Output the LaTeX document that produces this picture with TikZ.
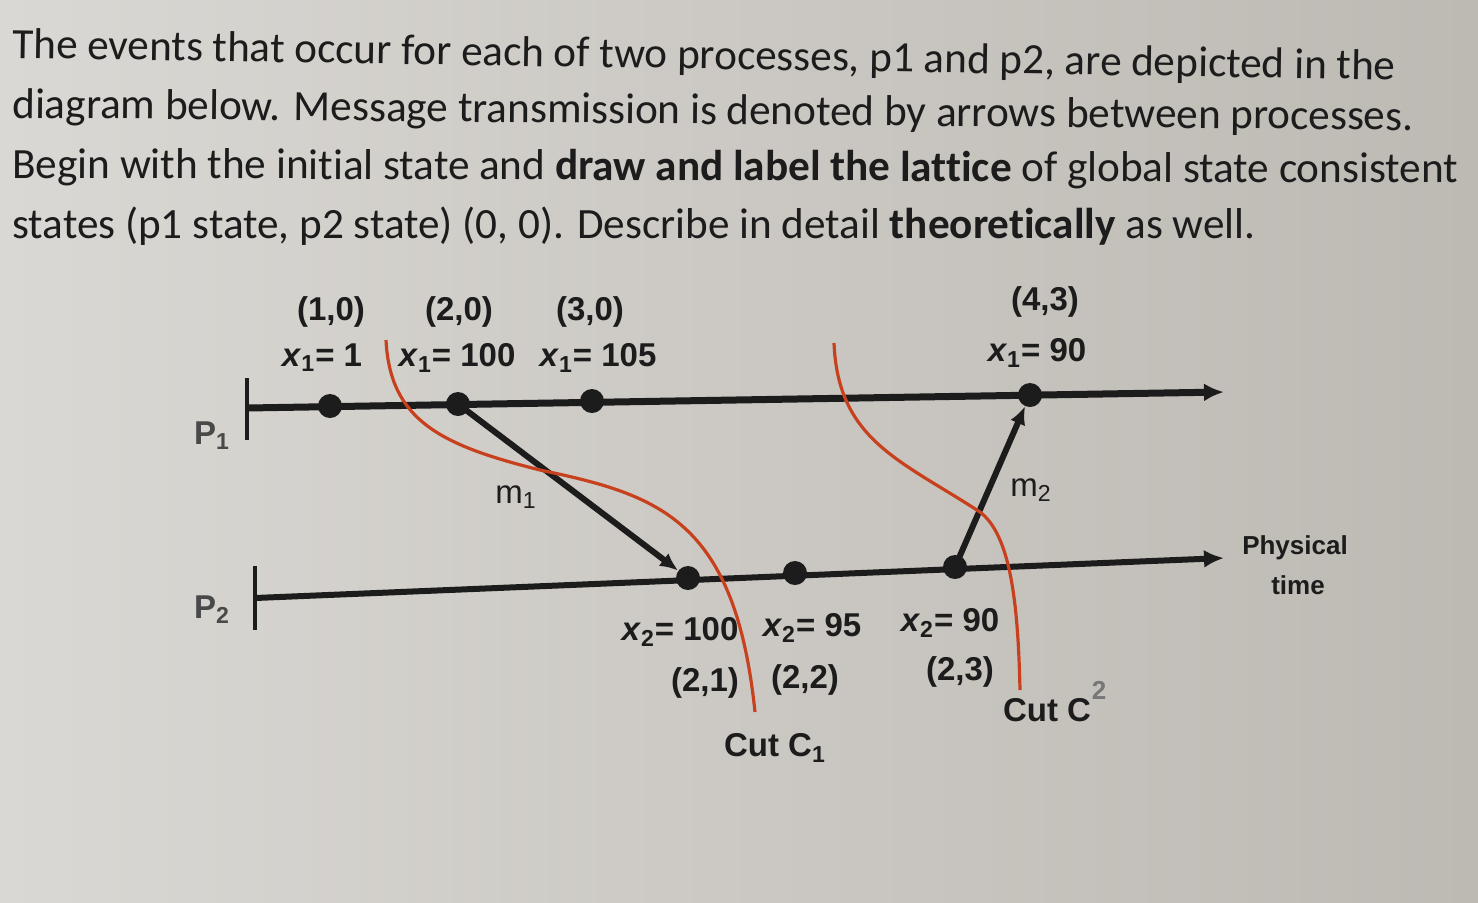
\documentclass[tikz,border=0pt]{standalone}
\usepackage{fontspec}
\setmainfont[Ligatures={NoCommon}]{Carlito}
\newfontfamily\labfont{Liberation Sans}
\usetikzlibrary{arrows.meta}
\definecolor{ink}{HTML}{1C1C1C}
\definecolor{cutred}{HTML}{C8411F}
\definecolor{bgL}{HTML}{DAD8D4}
\definecolor{bgR}{HTML}{BDB9B3}
\tikzset{
  headline/.style={anchor=base west, inner sep=0, text=ink, font=\fontsize{21.6}{25}\selectfont},
  ev/.style={circle, fill=ink, inner sep=0, minimum size=12pt},
  proc/.style={draw=ink, line width=3.5pt, -{Latex[length=10pt,width=9pt]}},
  tick/.style={draw=ink, line width=2pt},
  msg/.style={draw=ink, line width=3pt, -{Latex[length=9pt,width=8pt]}},
  cut/.style={draw=cutred, line width=1.6pt},
  lab/.style={inner sep=0, text=ink, font=\labfont\bfseries\fontsize{16.5}{19}\selectfont},
  small/.style={inner sep=0, text=ink, font=\labfont\bfseries\fontsize{13}{15}\selectfont},
}
\begin{document}
\begin{tikzpicture}[x=0.5pt, y=-0.5pt]
\shade[left color=bgL, right color=bgR] (0,0) rectangle (1478,902);
\useasboundingbox (0,0) rectangle (1478,902);

% heading
\node[headline, rotate=-0.9] (h1) at (12,58) {The events that occur for each of two processes, p1 and p2, are depicted in the};
\node[headline, rotate=-0.5] (h2) at (12,118) {diagram below. Message transmission is denoted by arrows between processes.};
\node[headline, rotate=-0.2] (h3) at (12,178) {Begin with the initial state and \textbf{draw and label the lattice} of global state consistent};
\node[headline] (h4) at (12,238) {states (p1 state, p2 state) (0, 0). Describe in detail \textbf{theoretically} as well.};

% process axes
\coordinate (p1s) at (247,408);
\coordinate (p1e) at (1224,392);
\coordinate (p2s) at (255,598);
\coordinate (p2e) at (1224,558);
\coordinate (t1a) at (247,378);
\coordinate (t1b) at (247,440);
\coordinate (t2a) at (255,566);
\coordinate (t2b) at (255,630);
\draw[tick] (t1a) -- (t1b);
\draw[tick] (t2a) -- (t2b);
\draw[proc] (p1s) -- (p1e);
\draw[proc, line width=3pt] (p2s) -- (p2e);

% events
\node[ev] (e1) at (330,406) {};
\node[ev] (e2) at (458,404) {};
\node[ev] (e3) at (592,401) {};
\node[ev] (e4) at (1030,395) {};
\node[ev] (f1) at (688,578) {};
\node[ev] (f2) at (795,573) {};
\node[ev] (f3) at (955,567) {};

% messages
\draw[msg] (e2.center) -- (f1);
\draw[msg] (f3.center) -- (e4);

% cuts
\coordinate (c1a) at (386,340);
\coordinate (c1b) at (540,470);
\coordinate (c1c) at (755,712);
\draw[cut] (c1a) .. controls (390,420) and (440,445) .. (c1b)
           .. controls (660,495) and (735,520) .. (c1c);
\coordinate (c2a) at (834,343);
\coordinate (c2b) at (980,512);
\coordinate (c2c) at (1020,690);
\draw[cut] (c2a) .. controls (838,440) and (900,460) .. (c2b)
           .. controls (1010,535) and (1018,600) .. (c2c);

% labels above P1
\node[lab] (s10) at (331,312) {(1,0)};
\node[lab] (s20) at (459,312) {(2,0)};
\node[lab] (s30) at (590,312) {(3,0)};
\node[lab] (s43) at (1045,302) {(4,3)};
\node[lab] (x11) at (322,358) {\textit{x}\textsubscript{1}= 1};
\node[lab] (x12) at (457,358) {\textit{x}\textsubscript{1}= 100};
\node[lab] (x13) at (598,358) {\textit{x}\textsubscript{1}= 105};
\node[lab] (x14) at (1037,353) {\textit{x}\textsubscript{1}= 90};

\node[lab, text=ink!80] (P1) at (212,436) {P\textsubscript{1}};
\node[lab, text=ink!80] (P2) at (212,610) {P\textsubscript{2}};
\node[lab, font=\labfont\fontsize{16.5}{19}\selectfont] (m1) at (516,497) {m\textsubscript{1}};
\node[lab, font=\labfont\fontsize{16.5}{19}\selectfont] (m2) at (1031,490) {m\textsubscript{2}};

% labels below P2
\node[lab] (x21) at (680,632) {\textit{x}\textsubscript{2}= 100};
\node[lab] (x22) at (812,628) {\textit{x}\textsubscript{2}= 95};
\node[lab] (x23) at (950,623) {\textit{x}\textsubscript{2}= 90};
\node[lab] (s21) at (705,683) {(2,1)};
\node[lab] (s22) at (805,680) {(2,2)};
\node[lab] (s23) at (960,672) {(2,3)};
\node[lab] (cutC1) at (775,748) {Cut C\textsubscript{1}};
\node[lab] (cutC2) at (1047,710) {Cut C};
\node[small, text=ink!60] (two) at (1099,690) {2};

\node[small] (phys) at (1295,548) {Physical};
\node[small] (time) at (1298,585) {time};
\end{tikzpicture}
\end{document}
